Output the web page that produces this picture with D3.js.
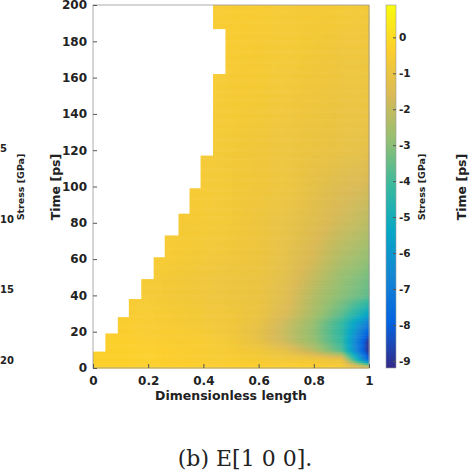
<!DOCTYPE html><html><head><meta charset="utf-8"><script src="https://cdn.jsdelivr.net/npm/d3@7"></script>
<style>body{margin:0;background:#fff}</style></head><body><svg id="c" width="474" height="474"></svg><script>
const xs=[0,0.1,0.2,0.3,0.4,0.5,0.6,0.7,0.8,0.9,1];
const ts=[0,5,10,15,20,25,30,40,50,60,80,100,120,140,160,180,200];
const stress=[
[-0.3,-0.3,-0.3,-0.3,-0.3,-0.3,-0.3,-0.3,-0.3,-0.4,-0.5],
[-0.3,-0.3,-0.3,-0.4,-0.5,-0.5,-0.6,-0.7,-0.8,-1.0,-8.0],
[-0.3,-0.3,-0.3,-0.4,-0.5,-0.6,-0.8,-1.2,-2.2,-3.8,-9.2],
[-0.3,-0.3,-0.4,-0.5,-0.5,-0.7,-1.1,-1.9,-2.8,-4.2,-9.0],
[-0.3,-0.4,-0.5,-0.5,-0.6,-0.8,-1.2,-2.0,-2.9,-4.3,-8.0],
[-0.4,-0.4,-0.5,-0.6,-0.7,-0.8,-1.1,-1.9,-2.8,-4.2,-7.0],
[-0.4,-0.5,-0.5,-0.6,-0.7,-0.8,-1.0,-1.6,-2.5,-3.6,-5.5],
[-0.5,-0.5,-0.6,-0.7,-0.8,-0.9,-1.0,-1.4,-2.3,-3.0,-3.6],
[-0.5,-0.5,-0.6,-0.7,-0.8,-0.9,-1.0,-1.3,-2.0,-2.8,-3.3],
[-0.5,-0.5,-0.5,-0.6,-0.7,-0.8,-0.9,-1.2,-1.7,-2.4,-2.9],
[-0.5,-0.5,-0.5,-0.6,-0.6,-0.7,-0.9,-1.1,-1.4,-1.8,-2.2],
[-0.5,-0.5,-0.5,-0.5,-0.6,-0.7,-0.8,-0.9,-1.2,-1.5,-1.7],
[-0.5,-0.5,-0.5,-0.5,-0.6,-0.7,-0.8,-0.9,-1.0,-1.1,-1.2],
[-0.5,-0.5,-0.5,-0.5,-0.6,-0.6,-0.7,-0.8,-0.9,-1.0,-1.0],
[-0.5,-0.5,-0.5,-0.5,-0.5,-0.6,-0.6,-0.7,-0.8,-0.9,-0.9],
[-0.5,-0.5,-0.5,-0.5,-0.5,-0.5,-0.6,-0.6,-0.7,-0.8,-0.8],
[-0.5,-0.5,-0.5,-0.5,-0.5,-0.5,-0.5,-0.6,-0.6,-0.6,-0.7]];
const boundT=[0,9,19,28,38,49,61,73,85,99,117,162,187,200];
const boundX=[0,0.045,0.09,0.13,0.175,0.22,0.26,0.31,0.35,0.39,0.435,0.48,0.435];
const xTicks=[0,0.2,0.4,0.6,0.8,1];
const yTicks=[0,20,40,60,80,100,120,140,160,180,200];
const cTicks=[0,-1,-2,-3,-4,-5,-6,-7,-8,-9];
const parula=["#352A87","#0363E1","#1485D4","#06A7C6","#38B99E","#92BF73","#D9BA56","#FCCE2E","#F9FB0E"];

const svg=d3.select("#c");
const F="DejaVu Sans";
const x=d3.scaleLinear().domain([0,1]).range([93,369]);
const y=d3.scaleLinear().domain([0,200]).range([368,5]);
const color=d3.scaleLinear().domain(d3.range(9).map(i=>-9.2+i*10.1/8)).range(parula).clamp(true);
function val(xv,tv){
  let j=Math.min(xs.length-2,d3.bisectRight(xs,xv)-1),i=Math.min(ts.length-2,d3.bisectRight(ts,tv)-1);
  const fx=(xv-xs[j])/(xs[j+1]-xs[j]),ft=(tv-ts[i])/(ts[i+1]-ts[i]);
  const a=stress[i][j]*(1-fx)+stress[i][j+1]*fx,b=stress[i+1][j]*(1-fx)+stress[i+1][j+1]*fx;
  return a*(1-ft)+b*ft;
}
function bound(tv){for(let k=0;k<boundX.length;k++)if(tv>=boundT[k]&&tv<boundT[k+1])return boundX[k];return boundX[boundX.length-1];}
const nx=140,nt=200,cells=[];
for(let i=0;i<nt;i++)for(let j=0;j<nx;j++){
  const x0=j/nx,x1=(j+1)/nx,t0=i*200/nt,t1=(i+1)*200/nt;
  const b=bound((t0+t1)/2);if(x1<=b)continue;
  const xa=Math.max(x0,b);
  cells.push({x0:xa,x1,t0,t1,v:val((xa+x1)/2,(t0+t1)/2)});
}
svg.append("g").selectAll("rect").data(cells).join("rect")
 .attr("x",d=>x(d.x0)).attr("width",d=>x(d.x1)-x(d.x0)+0.5)
 .attr("y",d=>y(d.t1)).attr("height",d=>y(d.t0)-y(d.t1)+0.5).attr("fill",d=>color(d.v));
svg.append("rect").attr("x",93).attr("y",5).attr("width",276).attr("height",363).attr("fill","none").attr("stroke","#999").attr("stroke-width",0.8);
const fmt=d=>String(d);
const ax=svg.append("g").attr("transform","translate(0,368)").call(d3.axisBottom(x).tickValues(xTicks).tickFormat(fmt).tickSize(-4).tickPadding(8));
const ay=svg.append("g").attr("transform","translate(93,0)").call(d3.axisLeft(y).tickValues(yTicks).tickFormat(fmt).tickSize(-4).tickPadding(6));
[ax,ay].forEach(a=>{a.select(".domain").remove();a.selectAll("line").attr("stroke","#555");a.selectAll("text").attr("font-size",12).attr("font-family",F).attr("font-weight","bold").attr("fill","#222");});
function T(){return svg.append("text").attr("font-family",F).attr("font-weight","bold").attr("fill","#222");}
T().attr("x",231).attr("y",400).attr("text-anchor","middle").attr("font-size",12.5).text("Dimensionless length");
T().attr("transform","translate(60,187) rotate(-90)").attr("text-anchor","middle").attr("font-size",12.5).text("Time [ps]");
// colorbar
const cy=d3.scaleLinear().domain([-9.2,0.9]).range([368,5]);
const grad=svg.append("defs").append("linearGradient").attr("id","g").attr("x1",0).attr("y1",1).attr("x2",0).attr("y2",0);
parula.forEach((c,i)=>grad.append("stop").attr("offset",i/8).attr("stop-color",c));
svg.append("rect").attr("x",386).attr("y",5).attr("width",10).attr("height",363).attr("fill","url(#g)").attr("stroke","#999").attr("stroke-width",0.6);
const ac=svg.append("g").attr("transform","translate(396,0)").call(d3.axisRight(cy).tickValues(cTicks).tickFormat(fmt).tickSize(-3).tickPadding(3));
ac.select(".domain").remove();ac.selectAll("line").attr("stroke","#555");ac.selectAll("text").attr("font-size",10.5).attr("font-family",F).attr("font-weight","bold").attr("fill","#222");
T().attr("transform","translate(425,187) rotate(-90)").attr("text-anchor","middle").attr("font-size",9.5).text("Stress [GPa]");
// neighbour panel fragments
T().attr("transform","translate(24,187) rotate(-90)").attr("text-anchor","middle").attr("font-size",9.5).text("Stress [GPa]");
[["5",152],["10",223],["15",293],["20",364]].forEach(([s,yy])=>T().attr("x",0).attr("y",yy).attr("font-size",10).text(s));
T().attr("transform","translate(466,187) rotate(-90)").attr("text-anchor","middle").attr("font-size",12.5).text("Time [ps]");
svg.append("text").attr("x",245).attr("y",466).attr("text-anchor","middle").attr("font-size",22).attr("font-family","DejaVu Serif").attr("fill","#222").text("(b) E[1 0 0].");
</script></body></html>
